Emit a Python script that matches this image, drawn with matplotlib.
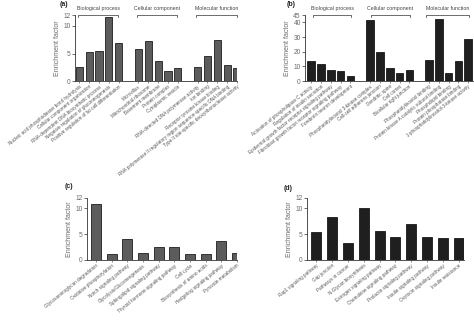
import matplotlib
matplotlib.use("Agg")
import matplotlib.pyplot as plt
import matplotlib.transforms as mtransforms

plt.rcParams["font.family"] = ["Liberation Sans", "DejaVu Sans"]

# ── Data ──────────────────────────────────────────────────────────────────────

GROUPS = ["Biological process", "Cellular component", "Molecular function"]

a_labels = [
    "Nucleic acid phosphodiester bond hydrolysis",
    "Cellular component organization",
    "RNA-dependent DNA biosynthetic process",
    "Negative regulation of gluconeogenesis",
    "Positive regulation of fat cell differentiation",
    "Microvillus",
    "Mitochondrial ribosome",
    "Basement membrane",
    "Protein complex",
    "Cytoplasmic vesicle",
    "RNA-directed DNA polymerase activity",
    "Ion binding",
    "Receptor tyrosine kinase binding",
    "RNA polymerase II regulatory region sequence-specific DNA binding",
    "Type II site-specific deoxyribonuclease activity",
]
a_values = [2.5, 5.3, 5.4, 11.7, 7.0,
            5.9, 7.3, 3.7, 1.9, 2.4,
            2.6, 4.5, 7.45, 3.0, 2.4]

b_labels = [
    "Activation of phospholipase C activity",
    "Regulation of insulin secretion",
    "Epidermal growth factor receptor signaling pathway",
    "Fibroblast growth factor receptor signaling pathway",
    "Forebrain neuron development",
    "Phosphatidylinositol 3-kinase complex",
    "Cell-cell adherens junction",
    "Dendritic spine",
    "Cell cortex",
    "Bicellular tight junction",
    "Phosphatidylinositol binding",
    "Protein kinase A catalytic subunit binding",
    "Phospholipid binding",
    "Protein phosphatase binding",
    "1-phosphatidylinositol-3-kinase activity",
]
b_values = [13.3, 11.5, 7.4, 7.0, 3.6,
            41.4, 19.8, 9.0, 5.2, 7.2,
            14.0, 42.6, 5.2, 13.3, 28.4]

c_labels = [
    "Glycosaminoglycan degradation",
    "Oxidative phosphorylation",
    "Notch signaling pathway",
    "Glycolysis/Gluconeogenesis",
    "Sphingolipid signaling pathway",
    "Thyroid hormone signaling pathway",
    "Cell cycle",
    "Biosynthesis of amino acids",
    "Hedgehog signaling pathway",
    "Pyruvate metabolism",
]
c_values = [10.85, 1.2, 4.1, 1.3, 2.6, 2.6, 1.2, 1.2, 3.6, 1.4]

d_labels = [
    "Rap1 signaling pathway",
    "Gap junction",
    "Pathways in cancer",
    "N-Glycan biosynthesis",
    "Estrogen signaling pathway",
    "Chemokine signaling pathway",
    "Prolactin signaling pathway",
    "Insulin signaling pathway",
    "Oxytocin signaling pathway",
    "Insulin resistance",
]
d_values = [5.4, 8.4, 3.3, 10.15, 5.6, 4.4, 6.9, 4.4, 4.2, 4.2]

# ── Style ─────────────────────────────────────────────────────────────────────

GRAY_BAR = "#5c5c5c"
DARK_BAR = "#1f1f1f"
TEXT_GRAY = "#6a6a6a"
LABEL_FS = 3.3


def grouped_positions(n_groups=3, per_group=5):
    """Bar positions with one empty slot between groups."""
    pos = []
    for g in range(n_groups):
        pos += [g * (per_group + 1) + i for i in range(per_group)]
    return pos


def style_axes(ax, ylim, yticks):
    ax.set_ylim(*ylim)
    ax.set_yticks(yticks)
    for side in ("top", "right"):
        ax.spines[side].set_visible(False)
    for side in ("left", "bottom"):
        ax.spines[side].set_linewidth(0.6)
        ax.spines[side].set_color("#333333")
    ax.tick_params(axis="y", labelsize=4.8, labelcolor=TEXT_GRAY,
                   length=2, width=0.5, pad=1, color="#333333")
    ax.tick_params(axis="x", length=1.2, width=0.4, pad=1, color="#333333")
    ax.set_ylabel("Enrichment factor", fontsize=5, color=TEXT_GRAY, labelpad=2)


def draw_bars(ax, pos, values, labels, color, width, xlim):
    ax.bar(pos, values, width=width, color=color, edgecolor="black",
           linewidth=0.5, clip_on=True)
    ax.set_xlim(*xlim)
    ax.set_xticks(pos)
    ax.set_xticklabels(labels, rotation=39, ha="right",
                       rotation_mode="anchor", fontsize=LABEL_FS,
                       color="#555555")


def draw_brackets(ax, pos, spans):
    trans = mtransforms.blended_transform_factory(ax.transData, ax.transAxes)
    for name, (x0, x1) in zip(GROUPS, spans):
        ax.plot([x0, x0, x1, x1], [0.965, 1.0, 1.0, 0.965], color="#333333",
                lw=0.5, transform=trans, clip_on=False)
        ax.text((x0 + x1) / 2, 1.1, name, transform=trans, ha="center",
                va="center", fontsize=3.8, color="#444444", clip_on=False)


fig = plt.figure(figsize=(4.74, 3.2), dpi=100)

# ── (a) ───────────────────────────────────────────────────────────────────────
ax_a = fig.add_axes([75 / 474, 1 - 81 / 320, 162 / 474, 66 / 320])
pos = grouped_positions()
draw_bars(ax_a, pos, a_values, a_labels, GRAY_BAR, 0.72, (-0.44, 16.0))
style_axes(ax_a, (0, 12), [0, 5, 10, 12])
draw_brackets(ax_a, pos, [(-0.15, 3.95), (5.9, 9.95), (11.85, 16.0)])

# ── (b) ───────────────────────────────────────────────────────────────────────
ax_b = fig.add_axes([305 / 474, 1 - 81 / 320, 169 / 474, 66 / 320])
draw_bars(ax_b, pos, b_values, b_labels, DARK_BAR, 0.78, (-0.63, 16.58))
style_axes(ax_b, (0, 45), [0, 10, 20, 30, 40, 45])
draw_brackets(ax_b, pos, [(0.18, 4.06), (6.1, 10.05), (11.7, 16.1)])

# ── (c) ───────────────────────────────────────────────────────────────────────
ax_c = fig.add_axes([87 / 474, 1 - 260 / 320, 150 / 474, 62 / 320])
pos_c = list(range(len(c_values)))
draw_bars(ax_c, pos_c, c_values, c_labels, GRAY_BAR, 0.64, (-0.57, 8.98))
style_axes(ax_c, (0, 12), [0, 5, 10, 12])

# ── (d) ───────────────────────────────────────────────────────────────────────
ax_d = fig.add_axes([307 / 474, 1 - 260 / 320, 157 / 474, 62 / 320])
pos_d = list(range(len(d_values)))
draw_bars(ax_d, pos_d, d_values, d_labels, DARK_BAR, 0.63, (-0.57, 9.32))
style_axes(ax_d, (0, 12), [0, 5, 10, 12])

# panel letters
for letter, x, y in [("(a)", 60, 5), ("(b)", 287, 5), ("(c)", 65, 187), ("(d)", 284, 188)]:
    fig.text(x / 474, 1 - y / 320, letter, fontsize=5, fontweight="bold",
             ha="left", va="center", color="#222222")

fig.savefig("out.png", dpi=100)
plt.close(fig)
